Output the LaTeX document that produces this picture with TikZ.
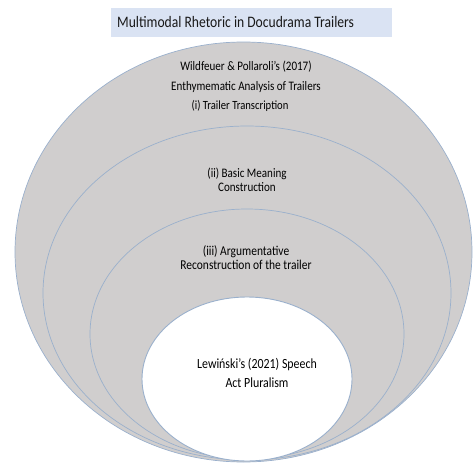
\documentclass[tikz,border=0pt]{standalone}
\usepackage{fontspec}
\setmainfont{Carlito}[FakeStretch=0.85]
\definecolor{ringgray}{HTML}{D0CECE}
\definecolor{ringline}{HTML}{9AB0CC}
\definecolor{titleblue}{HTML}{DAE3F3}
\tikzset{
  ring/.style={fill=ringgray,draw=ringline,line width=0.7pt},
  core/.style={fill=white,draw=ringline,line width=0.9pt},
  label/.style={align=center,text=black,font=\fontsize{13}{14}\selectfont}
}
\begin{document}
\begin{tikzpicture}[x=1pt,y=-1pt]
    \useasboundingbox (0,0) rectangle (474,474);

    % Title bar
    \fill[titleblue] (111,8) rectangle (392,37);
    \node[anchor=west,inner sep=0pt,font=\fontsize{16}{18}\selectfont,text=black!90] (title) at (117,22.5) {Multimodal Rhetoric in Docudrama Trailers};

    % Nested rings
    \filldraw[ring] (243.5,252) ellipse [x radius=228.5,y radius=210];
    \filldraw[ring] (247,293) ellipse [x radius=204,y radius=167];
    \filldraw[ring] (247,334) ellipse [x radius=157,y radius=125];
    \filldraw[core] (247,379) ellipse [x radius=105,y radius=82];

    % Labels
    \node[label,font=\fontsize{13}{20}\selectfont] (wild) at (246,77) {Wildfeuer \& Pollaroli's (2017)\\Enthymematic Analysis of Trailers};
    \node[label,font=\fontsize{12.5}{14}\selectfont] (stepone) at (240,106) {(i) Trailer Transcription};
    \node[label] (steptwo) at (247,180) {(ii) Basic Meaning\\Construction};
    \node[label,font=\fontsize{13.5}{14}\selectfont] (stepthree) at (246,257.5) {(iii) Argumentative\\Reconstruction of the trailer};
    \node[label,font=\fontsize{14}{19}\selectfont] (lew) at (257,372.5) {Lewiński's (2021) Speech\\Act Pluralism};
\end{tikzpicture}
\end{document}
